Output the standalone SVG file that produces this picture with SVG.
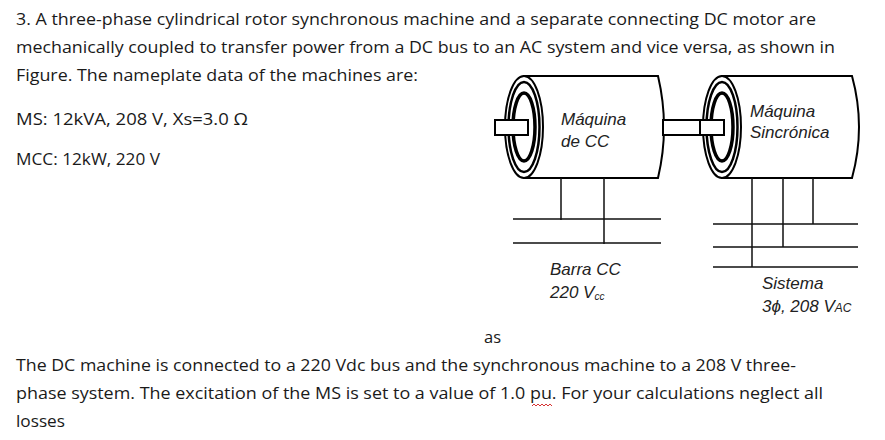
<svg xmlns="http://www.w3.org/2000/svg" width="885" height="440" viewBox="0 0 885 440">
<style>
.t{font-family:"Open Sans","Noto Sans",sans-serif;font-size:16.5px;fill:#1a1a1a}
.l{font-family:"Liberation Sans",Arial,sans-serif;font-style:italic;font-size:17px;fill:#222}
.s{stroke:#000;stroke-width:2;fill:#fff}
.w{stroke:#111;stroke-width:1.5;fill:none}
</style>
<rect width="885" height="440" fill="#fff"/>
<g id="text">
<text class="t" x="16" y="25" textLength="800" lengthAdjust="spacingAndGlyphs">3. A three-phase cylindrical rotor synchronous machine and a separate connecting DC motor are</text>
<text class="t" x="16" y="53" textLength="819" lengthAdjust="spacingAndGlyphs">mechanically coupled to transfer power from a DC bus to an AC system and vice versa, as shown in</text>
<text class="t" x="16" y="81" textLength="402" lengthAdjust="spacingAndGlyphs">Figure. The nameplate data of the machines are:</text>
<text class="t" x="16" y="125" textLength="232" lengthAdjust="spacingAndGlyphs">MS: 12kVA, 208 V, Xs=3.0 Ω</text>
<text class="t" x="16" y="165" textLength="144" lengthAdjust="spacingAndGlyphs">MCC: 12kW, 220 V</text>
<text class="t" x="484" y="343" font-size="13">as</text>
<text class="t" x="16" y="371" textLength="780" lengthAdjust="spacingAndGlyphs">The DC machine is connected to a 220 Vdc bus and the synchronous machine to a 208 V three-</text>
<text class="t" x="16" y="399" textLength="807" lengthAdjust="spacingAndGlyphs">phase system. The excitation of the MS is set to a value of 1.0 pu. For your calculations neglect all</text>
<text class="t" x="16" y="427" textLength="49" lengthAdjust="spacingAndGlyphs">losses</text>
<path d="M532 406 l2 -2 l2 2 l2 -2 l2 2 l2 -2 l2 2 l2 -2 l2 2 l2 -2 l2 2" stroke="#c00" stroke-width="0.8" fill="none"/>
</g>
<g id="dc-machine">
<path class="s" d="M524 76 L658 76 Q670 127 658 178 L524 178 Z"/>
<ellipse class="s" cx="524" cy="127" rx="19" ry="51"/>
<ellipse cx="524" cy="127" rx="15.5" ry="45" fill="none" stroke="#000" stroke-width="2.5"/>
<ellipse cx="524" cy="127" rx="11" ry="34" fill="none" stroke="#000" stroke-width="3.5"/>
<rect class="s" x="495" y="120" width="33" height="15" stroke-width="1.8"/>
<text class="l" x="561" y="125">Máquina</text>
<text class="l" x="561" y="147">de CC</text>
</g>
<g id="shaft"><rect class="s" x="663" y="120" width="59" height="15" stroke-width="1.8"/></g>
<g id="sync-machine">
<path class="s" d="M722 76 L852 76 Q866 127 852 178 L722 178 Z"/>
<ellipse class="s" cx="722" cy="127" rx="19" ry="51"/>
<ellipse cx="722" cy="127" rx="15.5" ry="45" fill="none" stroke="#000" stroke-width="2.5"/>
<ellipse cx="722" cy="127" rx="11" ry="34" fill="none" stroke="#000" stroke-width="3.5"/>
<rect class="s" x="700" y="120" width="24" height="15" stroke-width="1.8"/>
<text class="l" x="750" y="117">Máquina</text>
<text class="l" x="750" y="138">Sincrónica</text>
</g>
<g id="connectors">
<path class="w" d="M561 178V220M604 178V244M513 219H661M513 243H661"/>
<path class="w" d="M752 178V267M783 178V247M813 178V224M713 224H858M713 247H858M713 267H858"/>
</g>
<g id="bus-labels">
<text class="l" x="550" y="275">Barra CC</text>
<text class="l" x="550" y="298">220 V<tspan font-size="10" dy="2">cc</tspan></text>
<text class="l" x="762" y="289">Sistema</text>
<text class="l" x="762" y="312">3ϕ, 208 V<tspan font-size="12">AC</tspan></text>
</g>
</svg>
